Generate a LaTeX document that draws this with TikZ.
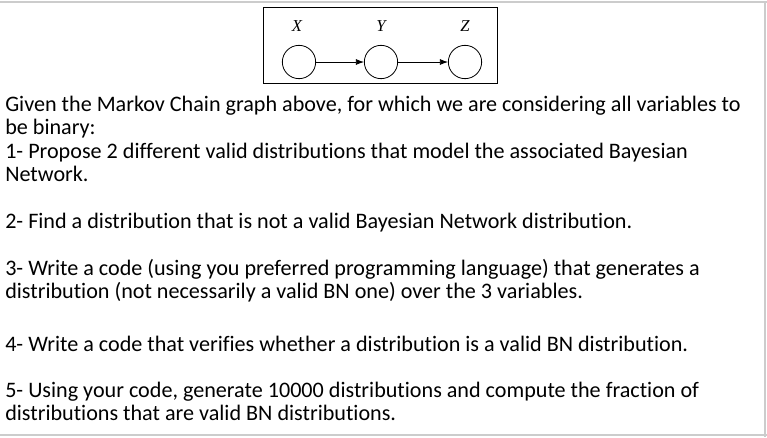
\documentclass[tikz,border=0pt]{standalone}
\usepackage{fontspec}
\setmainfont[Ligatures=NoCommon]{Carlito}
\usetikzlibrary{arrows.meta}
\begin{document}
\begin{tikzpicture}[x=0.75pt,y=-0.75pt,
  rv/.style={draw,circle,minimum size=25pt,inner sep=0pt,line width=0.6pt},
  lbl/.style={font=\fontspec{Liberation Serif}\itshape\fontsize{12.5}{14}\selectfont},
  txt/.style={anchor=base west,inner sep=0pt,font=\fontsize{16.6}{19}\selectfont},
  arr/.style={-{Latex[length=6pt,width=4.5pt]},line width=0.6pt}]
\useasboundingbox (0,0) rectangle (767,437);
\draw[gray!40,line width=1.5pt] (0,2) -- (767,2) (765,2) -- (765,437) (0,435) -- (767,435);
\node[draw,line width=0.7pt,minimum width=176pt,minimum height=57pt,inner sep=0pt] (frame) at (380.5,45) {};
\node[rv] (x) at (299,62) {};
\node[rv] (y) at (381,62) {};
\node[rv] (z) at (465,62) {};
\node[lbl] (lx) at (297,26) {X};
\node[lbl] (ly) at (381,26) {Y};
\node[lbl] (lz) at (465,26) {Z};
\draw[arr] (x) -- (y);
\draw[arr] (y) -- (z);
\node[txt] (t1) at (5,111) {Given the Markov Chain graph above, for which we are considering all variables to};
\node[txt] (t2) at (5,134) {be binary:};
\node[txt] (t3) at (5,158) {1- Propose 2 different valid distributions that model the associated Bayesian};
\node[txt] (t4) at (5,181) {Network.};
\node[txt] (t5) at (5,228) {2- Find a distribution that is not a valid Bayesian Network distribution.};
\node[txt] (t6) at (5,275) {3- Write a code (using you preferred programming language) that generates a};
\node[txt] (t7) at (5,298) {distribution (not necessarily a valid BN one) over the 3 variables.};
\node[txt] (t8) at (5,351) {4- Write a code that verifies whether a distribution is a valid BN distribution.};
\node[txt] (t9) at (5,397) {5- Using your code, generate 10000 distributions and compute the fraction of};
\node[txt] (t10) at (5,420) {distributions that are valid BN distributions.};
\end{tikzpicture}
\end{document}
